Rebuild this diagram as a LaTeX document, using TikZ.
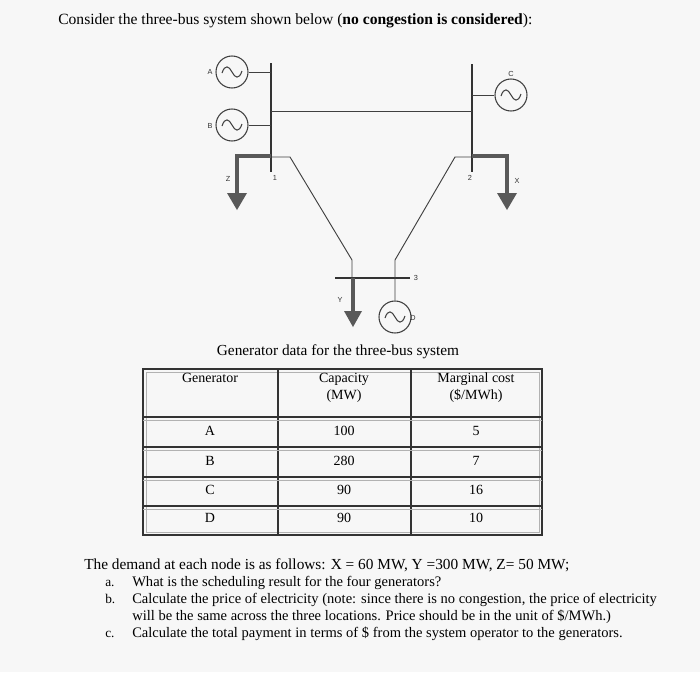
\documentclass[tikz,border=0pt]{standalone}
\usepackage{fontspec}
\setmainfont{Liberation Serif}
\newfontfamily\labfont{Liberation Sans}
\begin{document}
\begin{tikzpicture}[x=0.75pt,y=-0.75pt,
  wire/.style={draw=black!75,line width=0.7pt},
  busbar/.style={draw=black!80,line width=1.2pt},
  load/.style={draw=black!65,line width=2.6pt},
  tip/.style={fill=black!65,draw=none},
  gen/.style={circle,draw=black!75,line width=0.8pt,minimum size=32*0.75pt,inner sep=0pt},
  lab/.style={font=\labfont\fontsize{5.5}{6}\selectfont,text=black!80,inner sep=1pt},
  txt/.style={font=\fontsize{11.5}{13.5}\selectfont,anchor=base west,inner sep=0pt},
  qtxt/.style={font=\fontsize{10.9}{13}\selectfont,anchor=base west,inner sep=0pt},
  cell/.style={font=\fontsize{10.5}{12.5}\selectfont,align=center,inner sep=0pt}]
\fill[black!3] (0,0) rectangle (700,672);
\useasboundingbox (0,0) rectangle (700,672);
\node[txt,font=\fontsize{11.7}{13.5}\selectfont] (title) at (58,24) {Consider the three-bus system shown below (\textbf{no congestion is considered}):};
% buses
\coordinate (b1t) at (271,63); \coordinate (b1b) at (271,172);
\coordinate (b2t) at (472,64); \coordinate (b2b) at (472,172);
\draw[busbar] (b1t) -- (b1b);
\draw[busbar] (b2t) -- (b2b);
\coordinate (b3l) at (335,278); \coordinate (b3r) at (410,278);
\draw[busbar] (b3l) -- (b3r);
% generators
\node[gen] (A) at (232,72) {};
\node[gen] (B) at (232,125) {};
\node[gen] (C) at (511,95) {};
\node[gen] (D) at (395,317) {};
\foreach \g in {A,B,C,D}{
  \draw[black!75,line width=0.8pt] ([xshift=-10*0.75pt,yshift=-1*0.75pt]\g.center) .. controls ([xshift=-7*0.75pt,yshift=8*0.75pt]\g.center) and ([xshift=-3*0.75pt,yshift=6*0.75pt]\g.center) .. (\g.center) .. controls ([xshift=3*0.75pt,yshift=-6*0.75pt]\g.center) and ([xshift=7*0.75pt,yshift=-8*0.75pt]\g.center) .. ([xshift=10*0.75pt,yshift=1*0.75pt]\g.center);}
\draw[wire] (A.east) -- (271,72);
\draw[wire] (B.east) -- (271,125);
\draw[wire] (C.west) -- (472,95);
% lines
\draw[wire] (271,111) -- (472,111);
\draw[wire] (271,157) -- (290,157) -- (352,260) -- (352,278);
\draw[wire] (472,157) -- (455,157) -- (395,260) -- (D.north);
% loads
\draw[load] (271,156) -- (237,156) -- (237,195);
\fill[tip] (227,193) -- (247,193) -- (237,210) -- cycle;
\draw[load] (472,156) -- (507,156) -- (507,195);
\fill[tip] (497,193) -- (517,193) -- (507,210) -- cycle;
\draw[load] (353,278) -- (353,313);
\fill[tip] (344,311) -- (362,311) -- (353,327) -- cycle;
% labels
\node[lab] (lA) at (210,72) {A};
\node[lab] (lB) at (210,126) {B};
\node[lab] (lC) at (511,74) {C};
\node[lab] (lD) at (413,318) {D};
\node[lab] (lZ) at (228,179) {Z};
\node[lab] (l1) at (275,178) {1};
\node[lab] (l2) at (470,178) {2};
\node[lab] (lX) at (517,181) {X};
\node[lab] (lY) at (340,300) {Y};
\node[lab] (l3) at (416,278) {3};
% table
\node[txt,anchor=base] (cap) at (338,355) {Generator data for the three-bus system};
\draw[black!80,line width=0.8pt] (143,369) rectangle (542,535);
\draw[black!30,line width=0.5pt] (146,372) rectangle (539,532);
\foreach \xx in {278,411} \draw[black!80,line width=0.8pt] (\xx,369) -- (\xx,535);
\foreach \yy in {417,447,477,506} {\draw[black!80,line width=0.8pt] (143,\yy) -- (542,\yy);
  \draw[black!30,line width=0.4pt] (143,\yy+3) -- (542,\yy+3);}
\node[cell,anchor=north] (h1) at (210,373) {Generator};
\node[cell,anchor=north] (h2) at (344,373) {Capacity\\(MW)};
\node[cell,anchor=north] (h3) at (476,373) {Marginal cost\\(\$/MWh)};
\node[cell] (rA) at (210,431) {A};  \node[cell] (cA) at (344,431) {100}; \node[cell] (mA) at (476,431) {5};
\node[cell] (rB) at (210,461) {B};  \node[cell] (cB) at (344,461) {280}; \node[cell] (mB) at (476,461) {7};
\node[cell] (rC) at (210,490) {C};  \node[cell] (cC) at (344,490) {90};  \node[cell] (mC) at (476,490) {16};
\node[cell] (rD) at (210,518) {D};  \node[cell] (cD) at (344,518) {90};  \node[cell] (mD) at (476,518) {10};
% questions
\node[txt] (q0) at (84,569) {The demand at each node is as follows: X = 60 MW, Y =300 MW, Z= 50 MW;};
\node[qtxt,font=\fontsize{10}{12}\selectfont] (qa) at (105,586) {a.};
\node[qtxt] (qat) at (132,586) {What is the scheduling result for the four generators?};
\node[qtxt,font=\fontsize{10}{12}\selectfont] (qb) at (105,603) {b.};
\node[qtxt] (qbt) at (132,603) {Calculate the price of electricity (note: since there is no congestion, the price of electricity};
\node[qtxt] (qbt2) at (132,620) {will be the same across the three locations. Price should be in the unit of \$/MWh.)};
\node[qtxt,font=\fontsize{10}{12}\selectfont] (qc) at (105,637) {c.};
\node[qtxt] (qct) at (132,637) {Calculate the total payment in terms of \$ from the system operator to the generators.};
\end{tikzpicture}
\end{document}
